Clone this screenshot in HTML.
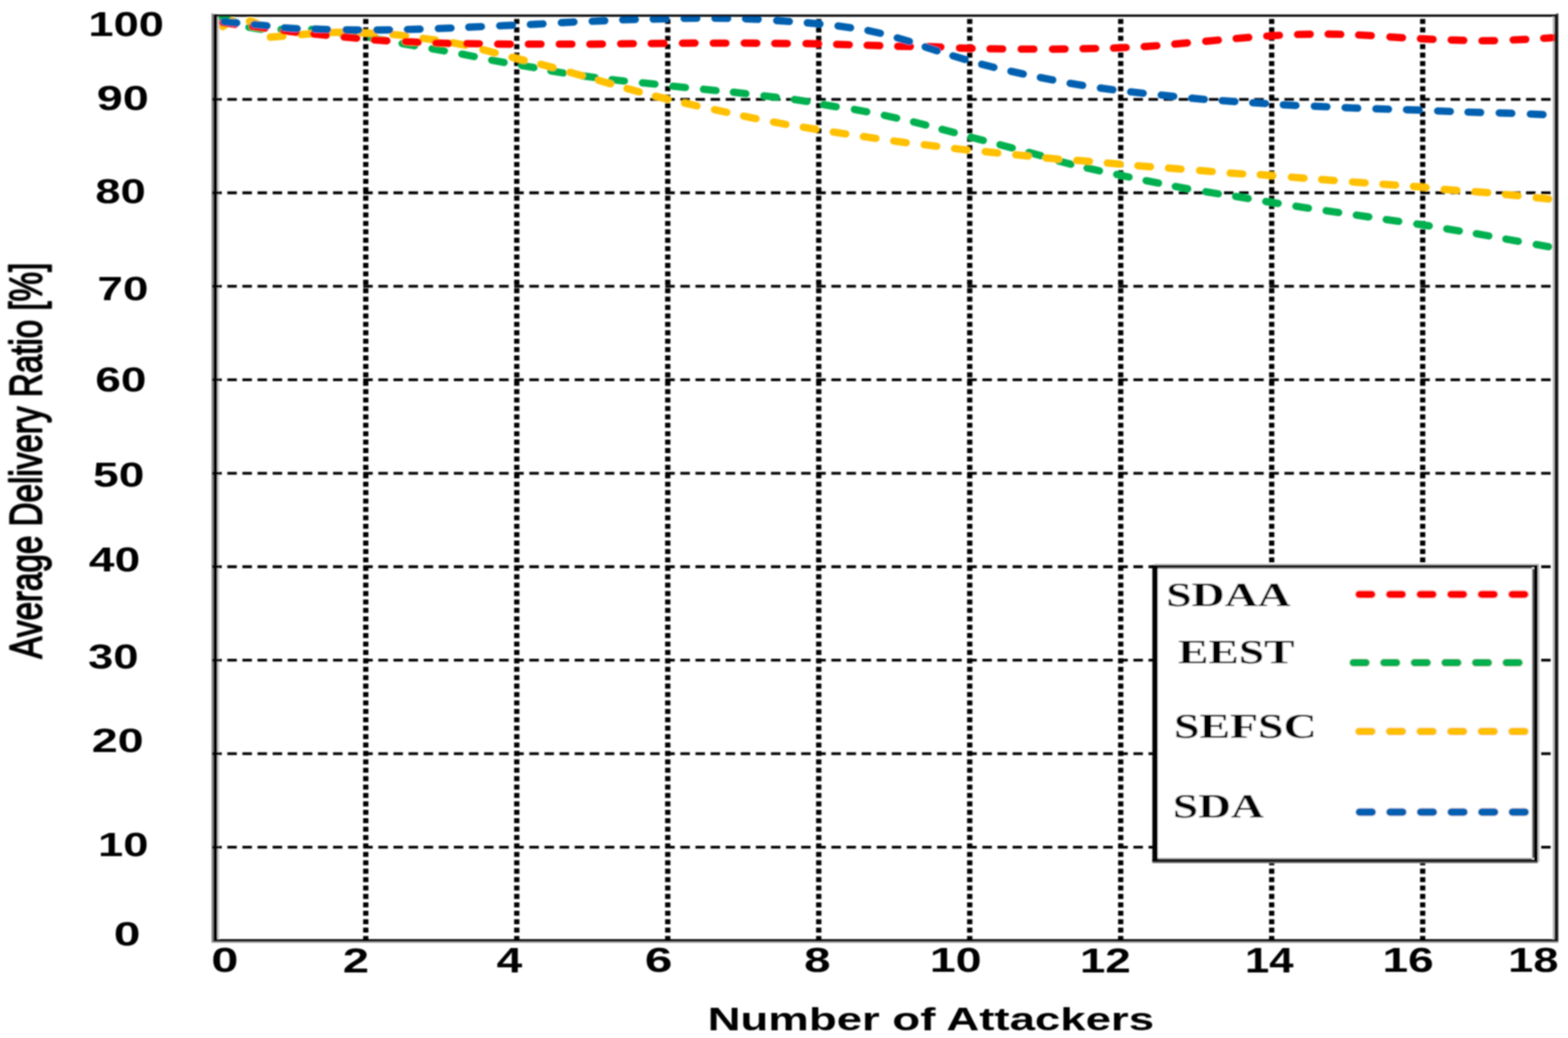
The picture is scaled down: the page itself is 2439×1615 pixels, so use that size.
<!DOCTYPE html>
<html><head><meta charset="utf-8"><title>Average Delivery Ratio vs Number of Attackers</title>
<style>html,body{margin:0;padding:0;background:#fff;}svg{display:block;}</style></head>
<body>
<svg width="2439" height="1615" viewBox="0 0 2439 1615">
<defs><filter id="bl" filterUnits="userSpaceOnUse" x="0" y="0" width="2439" height="1615"><feGaussianBlur stdDeviation="0.8"/></filter><clipPath id="pc"><rect x="338" y="25" width="2079.6" height="1436"/></clipPath></defs>
<rect width="2439" height="1615" fill="#fff"/>
<g filter="url(#bl)">
<g><rect x="329" y="21" width="3" height="1446" fill="#888"/><rect x="338" y="25" width="3" height="1436" fill="#ccc"/><rect x="2415" y="25" width="3" height="1436" fill="#c0c0c0"/><rect x="2421" y="21" width="3" height="1446" fill="#262626"/><rect x="329" y="1465" width="2095" height="2" fill="#a0a0a0"/></g>
<g stroke="#000" stroke-width="8.2" stroke-dasharray="7.8 5.29" fill="none"><line x1="568.96" y1="29.5" x2="568.96" y2="1463"/><line x1="803.82" y1="29.5" x2="803.82" y2="1463"/><line x1="1038.68" y1="29.5" x2="1038.68" y2="1463"/><line x1="1273.54" y1="29.5" x2="1273.54" y2="1463"/><line x1="1508.40" y1="29.5" x2="1508.40" y2="1463"/><line x1="1743.26" y1="29.5" x2="1743.26" y2="1463"/><line x1="1978.12" y1="29.5" x2="1978.12" y2="1463"/><line x1="2212.98" y1="29.5" x2="2212.98" y2="1463"/></g>
<g stroke="#000" stroke-width="4.3" stroke-dasharray="14.8 8.69" fill="none"><line x1="330.1" y1="1318.06" x2="2418" y2="1318.06"/><line x1="330.1" y1="1172.62" x2="2418" y2="1172.62"/><line x1="330.1" y1="1027.18" x2="2418" y2="1027.18"/><line x1="330.1" y1="881.74" x2="2418" y2="881.74"/><line x1="330.1" y1="736.30" x2="2418" y2="736.30"/><line x1="330.1" y1="590.86" x2="2418" y2="590.86"/><line x1="330.1" y1="445.42" x2="2418" y2="445.42"/><line x1="330.1" y1="299.98" x2="2418" y2="299.98"/><line x1="330.1" y1="154.54" x2="2418" y2="154.54"/></g>
<g clip-path="url(#pc)"><path d="M345.6,28.1L364.4,33.9M387.3,42.4L406.7,45.6M437.2,45.7L456.8,46.3M484.7,45.7L504.3,47.3M531.3,52.5L550.7,55.5M577.8,59.4L597.2,62.6M625.5,67.8L644.9,71.2M672.0,75.8L691.2,79.2M718.4,84.2L737.6,88.0M764.9,93.6L784.1,97.2M811.4,101.8L830.6,105.2M856.8,110.3L876.2,113.5M906.3,118.0L925.7,120.6M951.8,123.9L971.2,126.1M999.3,128.9L1018.7,130.9M1046.8,134.1L1066.2,136.1M1094.2,138.8L1113.8,140.8M1140.8,143.5L1160.2,145.7M1188.3,149.1L1207.7,151.5M1235.8,154.8L1255.2,157.8M1281.3,162.9L1300.7,166.1M1329.0,170.3L1348.2,173.9M1375.5,179.5L1394.7,183.7M1421.0,189.7L1440.0,194.5M1465.3,201.3L1484.3,206.3M1510.5,213.5L1529.5,218.5M1555.5,225.2L1574.5,230.2M1600.4,237.1L1619.2,242.3M1646.7,250.5L1665.7,255.5M1691.0,261.4L1710.2,265.8M1737.0,271.5L1756.2,275.5M1782.8,281.1L1802.0,284.9M1828.2,290.1L1847.4,293.7M1875.6,298.3L1895.0,301.5M1922.1,305.7L1941.5,308.9M1968.8,313.5L1988.2,316.5M2015.8,320.8L2035.2,323.8M2062.8,327.8L2082.2,330.6M2109.7,334.7L2129.1,337.5M2156.3,341.6L2175.7,344.4M2203.8,348.5L2223.2,351.5M2250.5,356.1L2269.9,359.3M2296.4,363.6L2315.8,367.0M2342.4,372.0L2361.6,375.4M2389.6,380.4L2408.8,383.8" stroke="#00b050" stroke-width="11.4" stroke-linecap="round" fill="none"/><path d="M420.5,57.8L440.1,56.2M468.2,53.7L487.8,52.3M515.7,50.5L535.3,50.1M562.7,51.1L582.3,51.9M611.2,53.6L630.8,55.6M658.1,59.6L677.5,62.4M704.4,66.6L723.6,70.4M751.2,77.4L770.2,82.2M796.5,89.1L815.5,93.9M841.2,99.9L860.2,104.9M886.6,112.4L905.4,117.8M931.0,125.0L949.8,130.4M975.3,137.8L994.3,143.0M1019.5,149.6L1038.5,154.4M1064.9,160.4L1084.1,164.8M1111.4,170.6L1130.6,174.8M1156.7,180.6L1175.9,184.6M1203.2,189.9L1222.4,193.5M1249.5,197.9L1268.9,201.1M1296.2,205.4L1315.6,208.4M1343.1,212.5L1362.5,215.3M1390.2,219.4L1409.6,222.0M1437.7,225.2L1457.1,227.6M1484.8,231.2L1504.2,233.4M1532.4,236.0L1552.0,238.0M1580.0,240.8L1599.4,242.8M1627.0,245.8L1646.6,247.6M1675.0,249.5L1694.6,251.1M1722.5,253.6L1742.1,255.4M1770.0,257.9L1789.6,259.5M1817.5,261.5L1837.1,263.1M1866.0,265.3L1885.6,266.9M1913.5,269.2L1933.1,270.6M1960.2,271.8L1979.8,273.2M2008.8,275.6L2028.4,277.2M2055.8,279.3L2075.4,280.9M2103.8,283.1L2123.4,284.5M2151.2,286.6L2170.8,288.0M2198.6,290.0L2218.2,291.6M2246.5,294.6L2266.1,296.2M2294.5,298.2L2314.1,299.8M2341.8,302.6L2361.2,304.6M2389.5,307.7L2408.9,309.7M346.5,41.5 L361,32.5M388,33 Q395,33.5 401,37.5" stroke="#ffc000" stroke-width="11.4" stroke-linecap="round" fill="none"/><path d="M346.3,35.2L365.7,37.8M392.8,41.2L412.2,43.8M441.3,47.8L460.7,50.2M487.9,52.8L507.5,54.8M535.2,57.6L554.8,59.4M582.2,62.1L601.8,63.5M630.7,64.8L650.3,65.8M677.9,66.9L697.5,67.5M726.0,67.9L745.6,68.1M774.2,68.5L793.8,68.7M821.9,68.6L841.5,68.6M870.0,68.6L889.6,68.6M917.5,68.7L937.1,68.5M965.5,68.1L985.1,67.9M1013.0,67.7L1032.6,67.5M1061.5,67.2L1081.1,67.0M1109.5,67.1L1129.1,67.1M1157.6,67.0L1177.2,67.2M1205.1,67.5L1224.7,67.7M1253.7,67.8L1273.3,68.2M1301.4,69.0L1321.0,69.6M1348.9,70.4L1368.5,71.0M1396.4,72.0L1416.0,72.4M1443.9,72.5L1463.5,73.1M1492.5,74.7L1512.1,75.3M1540.0,75.9L1559.6,76.1M1588.5,76.4L1608.1,76.4M1637.1,76.5L1656.7,76.3M1684.6,75.8L1704.2,75.4M1732.1,74.7L1751.7,73.9M1779.8,72.5L1799.4,71.1M1827.3,68.5L1846.9,66.7M1875.5,64.2L1895.1,62.4M1922.8,59.9L1942.4,58.3M1970.5,56.1L1990.1,54.9M2018.4,53.6L2038.0,53.2M2065.9,53.0L2085.5,53.4M2113.4,54.4L2133.0,55.4M2162.0,57.5L2181.6,58.7M2209.5,60.2L2229.1,61.2M2257.3,62.2L2276.9,62.8M2305.2,63.4L2324.8,63.2M2353.7,62.1L2373.3,61.3M2401.2,59.6L2420.8,58.4" stroke="#ff0000" stroke-width="11.4" stroke-linecap="round" fill="none"/><path d="M348.6,33.9L368.2,35.7M395.5,38.2L415.1,40.2M442.6,43.4L462.2,44.8M489.7,45.3L509.3,45.9M538.3,46.5L557.9,46.7M586.3,46.7L605.9,46.5M633.8,45.9L653.4,45.3M681.9,44.4L701.5,43.6M729.2,42.2L748.8,41.4M777.3,40.1L796.9,39.3M825.0,38.1L844.6,37.1M873.2,35.3L892.8,34.3M921.1,33.1L940.7,32.3M968.6,30.9L988.2,30.3M1016.1,29.8L1035.7,29.4M1064.2,28.6L1083.8,28.4M1112.2,28.4L1131.8,28.6M1159.7,29.2L1179.3,30.0M1208.2,32.0L1227.8,33.4M1255.8,35.5L1275.4,37.3M1303.6,40.4L1323.0,43.2M1350.1,47.5L1369.3,51.7M1395.7,58.9L1414.5,64.5M1439.1,73.0L1457.7,79.0M1482.3,86.9L1501.1,92.5M1527.0,100.0L1546.0,104.8M1572.5,110.9L1591.7,115.1M1618.3,120.6L1637.5,124.4M1664.6,129.7L1684.0,132.9M1711.7,137.0L1731.1,139.6M1758.8,142.9L1778.2,145.1M1806.3,147.9L1825.7,149.9M1853.7,152.8L1873.3,154.6M1901.2,156.6L1920.8,158.0M1948.7,159.9L1968.3,161.1M1996.2,163.1L2015.8,164.1M2044.4,165.3L2064.0,166.1M2092.3,167.5L2111.9,168.3M2140.2,169.3L2159.8,169.9M2187.8,170.7L2207.4,171.3M2236.3,172.6L2255.9,173.4M2283.5,174.4L2303.1,175.0M2332.0,175.7L2351.6,176.3M2380.5,177.4L2400.1,178.2" stroke="#0560b0" stroke-width="11.4" stroke-linecap="round" fill="none"/></g>
<rect x="1797" y="881" width="591" height="458" fill="#fff"/><g><rect x="1795" y="877.3" width="599.7" height="1.7" fill="#c0c0c0"/><rect x="1801" y="883" width="582" height="2" fill="#7a7a7a"/><rect x="2383" y="885" width="3" height="450" fill="#5c5c5c"/><rect x="2392" y="879" width="2.7" height="462" fill="#c8c8c8"/><rect x="1801" y="1335" width="582" height="2" fill="#808080"/><rect x="1792.5" y="1341" width="599.5" height="2" fill="#727272"/></g><g fill="#000"><rect x="1792.5" y="879" width="8.5" height="462"/><rect x="1792.5" y="879" width="599.5" height="4"/><rect x="2386" y="879" width="6" height="462"/><rect x="1792.5" y="1337" width="599.5" height="4"/></g><path d="M2114.0,924.8 h19.7 M2161.6,924.8 h19.7 M2209.2,924.8 h19.7 M2256.8,924.8 h19.7 M2304.4,924.8 h19.7 M2352.0,924.8 h19.7 " stroke="#ff0000" stroke-width="12" stroke-linecap="round" fill="none"/><path d="M2105.0,1031.0 h19.7 M2152.6,1031.0 h19.7 M2200.2,1031.0 h19.7 M2247.8,1031.0 h19.7 M2295.4,1031.0 h19.7 M2343.0,1031.0 h19.7 " stroke="#00b050" stroke-width="12" stroke-linecap="round" fill="none"/><path d="M2114.0,1138.0 h19.7 M2161.6,1138.0 h19.7 M2209.2,1138.0 h19.7 M2256.8,1138.0 h19.7 M2304.4,1138.0 h19.7 M2352.0,1138.0 h19.7 " stroke="#ffc000" stroke-width="12" stroke-linecap="round" fill="none"/><path d="M2114.6,1263.6 h19.7 M2162.2,1263.6 h19.7 M2209.8,1263.6 h19.7 M2257.4,1263.6 h19.7 M2305.0,1263.6 h19.7 M2352.6,1263.6 h19.7 " stroke="#0560b0" stroke-width="12" stroke-linecap="round" fill="none"/><text transform="matrix(0.7113 0 0 0.5250 1814.04 942.95)" font-family="'Liberation Serif', serif" font-weight="bold" font-size="100" fill="#000">SDAA</text><text transform="matrix(0.7079 0 0 0.5254 1832.58 1031.95)" font-family="'Liberation Serif', serif" font-weight="bold" font-size="100" fill="#000">EEST</text><text transform="matrix(0.7140 0 0 0.5522 1825.93 1148.40)" font-family="'Liberation Serif', serif" font-weight="bold" font-size="100" fill="#000">SEFSC</text><text transform="matrix(0.7067 0 0 0.5176 1824.37 1271.96)" font-family="'Liberation Serif', serif" font-weight="bold" font-size="100" fill="#000">SDA</text>
<g fill="#000"><rect x="332" y="22.6" width="6" height="1442.4"/><rect x="332" y="22.6" width="2089" height="3.5"/><rect x="2418" y="22.6" width="3" height="1442.4"/><rect x="332" y="1461.3" width="2089" height="3.7"/></g>
<text transform="matrix(0.7045 0 0 0.5324 137.47 56.27)" font-family="'Liberation Sans', sans-serif" font-weight="bold" font-size="100" fill="#000">100</text><text transform="matrix(0.7272 0 0 0.5352 150.59 171.46)" font-family="'Liberation Sans', sans-serif" font-weight="bold" font-size="100" fill="#000">90</text><text transform="matrix(0.7048 0 0 0.5296 148.19 316.07)" font-family="'Liberation Sans', sans-serif" font-weight="bold" font-size="100" fill="#000">80</text><text transform="matrix(0.7126 0 0 0.5211 151.55 467.48)" font-family="'Liberation Sans', sans-serif" font-weight="bold" font-size="100" fill="#000">70</text><text transform="matrix(0.7146 0 0 0.5437 148.14 608.86)" font-family="'Liberation Sans', sans-serif" font-weight="bold" font-size="100" fill="#000">60</text><text transform="matrix(0.7154 0 0 0.5310 144.85 757.17)" font-family="'Liberation Sans', sans-serif" font-weight="bold" font-size="100" fill="#000">50</text><text transform="matrix(0.7162 0 0 0.5352 138.37 889.16)" font-family="'Liberation Sans', sans-serif" font-weight="bold" font-size="100" fill="#000">40</text><text transform="matrix(0.7048 0 0 0.5324 137.09 1040.27)" font-family="'Liberation Sans', sans-serif" font-weight="bold" font-size="100" fill="#000">30</text><text transform="matrix(0.7260 0 0 0.5254 142.72 1170.07)" font-family="'Liberation Sans', sans-serif" font-weight="bold" font-size="100" fill="#000">20</text><text transform="matrix(0.7040 0 0 0.5211 152.48 1332.48)" font-family="'Liberation Sans', sans-serif" font-weight="bold" font-size="100" fill="#000">10</text><text transform="matrix(0.7447 0 0 0.5211 177.02 1470.78)" font-family="'Liberation Sans', sans-serif" font-weight="bold" font-size="100" fill="#000">0</text><text transform="matrix(0.7553 0 0 0.5324 328.78 1512.27)" font-family="'Liberation Sans', sans-serif" font-weight="bold" font-size="100" fill="#000">0</text><text transform="matrix(0.7327 0 0 0.5400 533.20 1512.80)" font-family="'Liberation Sans', sans-serif" font-weight="bold" font-size="100" fill="#000">2</text><text transform="matrix(0.7170 0 0 0.5478 772.57 1512.80)" font-family="'Liberation Sans', sans-serif" font-weight="bold" font-size="100" fill="#000">4</text><text transform="matrix(0.7708 0 0 0.5324 1002.92 1512.27)" font-family="'Liberation Sans', sans-serif" font-weight="bold" font-size="100" fill="#000">6</text><text transform="matrix(0.7400 0 0 0.5324 1250.78 1512.27)" font-family="'Liberation Sans', sans-serif" font-weight="bold" font-size="100" fill="#000">8</text><text transform="matrix(0.7248 0 0 0.5324 1446.15 1512.27)" font-family="'Liberation Sans', sans-serif" font-weight="bold" font-size="100" fill="#000">10</text><text transform="matrix(0.7129 0 0 0.5400 1679.72 1512.80)" font-family="'Liberation Sans', sans-serif" font-weight="bold" font-size="100" fill="#000">12</text><text transform="matrix(0.6800 0 0 0.5478 1936.52 1512.80)" font-family="'Liberation Sans', sans-serif" font-weight="bold" font-size="100" fill="#000">14</text><text transform="matrix(0.7158 0 0 0.5324 2150.40 1512.27)" font-family="'Liberation Sans', sans-serif" font-weight="bold" font-size="100" fill="#000">16</text><text transform="matrix(0.7059 0 0 0.5324 2345.76 1512.27)" font-family="'Liberation Sans', sans-serif" font-weight="bold" font-size="100" fill="#000">18</text><text transform="matrix(0.7089 0 0 0.5054 1100.64 1602.89)" font-family="'Liberation Sans', sans-serif" font-weight="bold" font-size="100" fill="#000">Number of Attackers</text><text transform="matrix(0 -0.5164 0.7090 0 64.20 1024.70)" font-family="'Liberation Sans', sans-serif" font-weight="normal" font-size="100" fill="#000" stroke="#000" stroke-width="3.4" stroke-linejoin="round">Average Delivery Ratio [%]</text>
</g>
</svg>
</body></html>
